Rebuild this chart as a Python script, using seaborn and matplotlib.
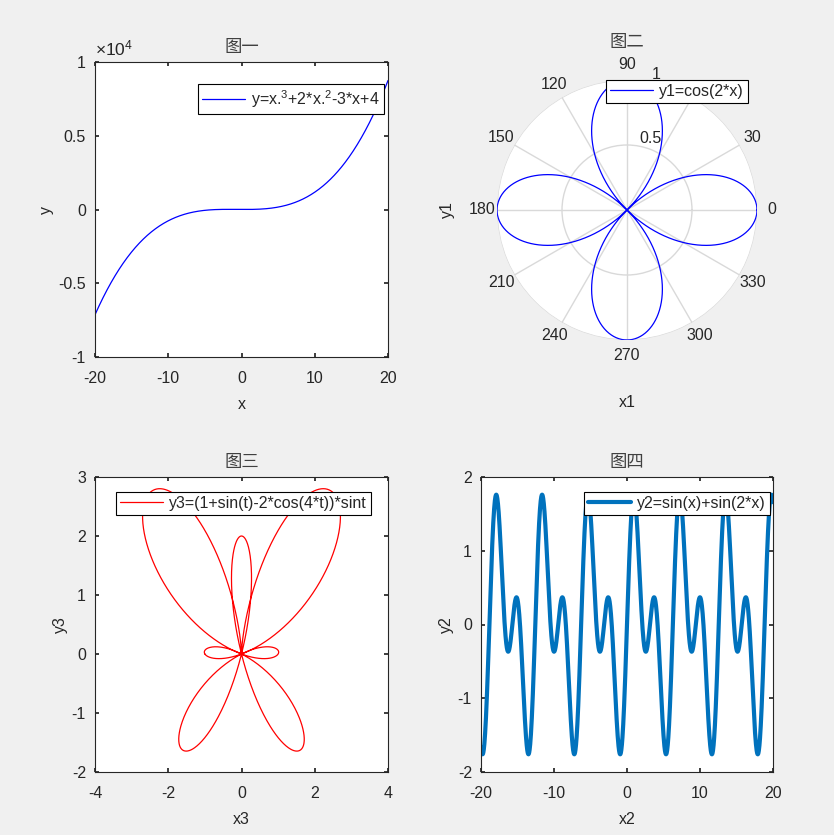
"""
plot.py — four MATLAB-style subplots (polynomial, polar rose, butterfly, sine sum).
"""

import matplotlib
matplotlib.use("Agg")
import matplotlib.pyplot as plt
import numpy as np
import seaborn as sns
from matplotlib.ticker import FuncFormatter

# ---------------------------------------------------------------------------
# Data (curves given by the legend formulas)
# ---------------------------------------------------------------------------

x = np.linspace(-20, 20, 801)
y = x**3 + 2 * x**2 - 3 * x + 4

x1 = np.linspace(0, 2 * np.pi, 1201)
y1 = np.cos(2 * x1)

t = np.linspace(0, 2 * np.pi, 2001)
rho = 1 + np.sin(t) - 2 * np.cos(4 * t)
x3 = rho * np.cos(t)
y3 = rho * np.sin(t)

x2 = np.linspace(-20, 20, 2001)
y2 = np.sin(x2) + np.sin(2 * x2)

titles = ["图一", "图二", "图三", "图四"]
labels = [
    "y=x.$^3$+2*x.$^2$-3*x+4",
    "y1=cos(2*x)",
    "y3=(1+sin(t)-2*cos(4*t))*sint",
    "y2=sin(x)+sin(2*x)",
]
polar_angles = list(range(0, 360, 30))
polar_hidden = [60]  # covered by the legend in the reference

# ---------------------------------------------------------------------------
# Style
# ---------------------------------------------------------------------------

W, H = 834, 835
BG = "#f0f0f0"
AX = "#262626"
FS = 11.5

sns.set_theme(style="ticks")
plt.rcParams["font.family"] = ["Liberation Sans", "Noto Sans CJK SC", "DejaVu Sans"]
plt.rcParams.update({
    "font.size": FS,
    "axes.unicode_minus": False,
    "axes.edgecolor": AX,
    "axes.labelcolor": AX,
    "xtick.color": AX,
    "ytick.color": AX,
    "xtick.direction": "in",
    "ytick.direction": "in",
    "xtick.top": True,
    "ytick.right": True,
    "xtick.major.size": 3,
    "ytick.major.size": 3,
    "xtick.major.pad": 10,
    "ytick.major.pad": 6.5,
    "axes.linewidth": 0.8,
    "xtick.labelsize": FS,
    "ytick.labelsize": FS,
    "axes.labelsize": FS,
    "mathtext.fontset": "custom",
    "mathtext.rm": "Liberation Sans",
    "mathtext.it": "Liberation Sans",
})

fig = plt.figure(figsize=(W / 100, H / 100), dpi=100, facecolor=BG)


def fx(px):
    return px / W


def fy(py):
    return 1 - py / H


def rect(l, t_, r, b):
    return [fx(l), fy(b), fx(r) - fx(l), fy(t_) - fy(b)]


def add_title(ax, text):
    ax.set_title(text, fontsize=12.5, color="#404040", pad=7,
                 family=["Noto Sans CJK SC", "DejaVu Sans"])


def add_labels(ax, xl, yl):
    ax.set_xlabel(xl, labelpad=8)
    ax.set_ylabel(yl, labelpad=3)


def add_legend(ax, right, top):
    leg = ax.legend(loc="upper right", bbox_to_anchor=(fx(right), fy(top)),
                    bbox_transform=fig.transFigure, borderaxespad=0,
                    fancybox=False, framealpha=1, edgecolor="black",
                    handlelength=2.7, borderpad=0.25, handletextpad=0.4,
                    fontsize=FS)
    leg.get_frame().set_linewidth(0.8)
    leg.set_zorder(10)
    return leg


# ---------------------------------------------------------------------------
# 图一
# ---------------------------------------------------------------------------

ax1 = fig.add_axes(rect(95, 62, 388, 357))
sns.lineplot(x=x, y=y, ax=ax1, color="blue", lw=0.9, label=labels[0])
ax1.set_xlim(-20, 20)
ax1.set_ylim(-1e4, 1e4)
ax1.set_xticks([-20, -10, 0, 10, 20])
ax1.set_yticks([-1e4, -0.5e4, 0, 0.5e4, 1e4])
ax1.yaxis.set_major_formatter(FuncFormatter(lambda v, _: f"{v / 1e4:g}"))
ax1.text(0, 1.012, r"$\times10^4$", transform=ax1.transAxes, ha="left",
         va="bottom", color=AX, fontsize=12.5)
add_labels(ax1, "x", "y")
add_title(ax1, titles[0])
add_legend(ax1, 384, 84)

# ---------------------------------------------------------------------------
# 图二 (polar)
# ---------------------------------------------------------------------------

axp = fig.add_axes(rect(497, 80, 757, 340), projection="polar")
theta = np.where(y1 < 0, x1 + np.pi, x1)
sns.lineplot(x=theta, y=np.abs(y1), ax=axp, color="blue", lw=0.9,
             sort=False, estimator=None, label=labels[1])
axp.set_ylim(0, 1)
axp.spines["polar"].set_visible(False)
axp.set_thetagrids(polar_angles,
                   ["" if a in polar_hidden else str(a) for a in polar_angles],
                   fontsize=FS)
axp.tick_params(axis="x", pad=4)
axp.set_rgrids([0.5, 1.0], ["0.5", "1"], angle=79, fontsize=FS)
axp.grid(True, color="#d9d9d9", lw=1)
axp.set_xlabel("")
axp.set_ylabel("")
add_title(axp, titles[1])
axp.title.set_y(1.065)
add_legend(axp, 748, 80)
fig.text(fx(627), fy(402), "x1", ha="center", va="center", color=AX, fontsize=FS)
fig.text(fx(447), fy(210), "y1", ha="center", va="center", color=AX,
         fontsize=FS, rotation=90)

# ---------------------------------------------------------------------------
# 图三
# ---------------------------------------------------------------------------

ax3 = fig.add_axes(rect(95, 477, 388, 772))
sns.lineplot(x=x3, y=y3, ax=ax3, color="red", lw=0.9, sort=False,
             estimator=None, label=labels[2])
ax3.set_xlim(-4, 4)
ax3.set_ylim(-2, 3)
ax3.set_xticks([-4, -2, 0, 2, 4])
ax3.set_yticks([-2, -1, 0, 1, 2, 3])
add_labels(ax3, "x3", "y3")
add_title(ax3, titles[2])
add_legend(ax3, 371, 492)

# ---------------------------------------------------------------------------
# 图四
# ---------------------------------------------------------------------------

ax4 = fig.add_axes(rect(481, 477, 773, 772))
sns.lineplot(x=x2, y=y2, ax=ax4, color="#0072BD", lw=3, label=labels[3])
ax4.set_xlim(-20, 20)
ax4.set_ylim(-2, 2)
ax4.set_xticks([-20, -10, 0, 10, 20])
ax4.set_yticks([-2, -1, 0, 1, 2])
add_labels(ax4, "x2", "y2")
add_title(ax4, titles[3])
add_legend(ax4, 770, 492)

for ax in (ax1, ax3, ax4):
    ax.set_facecolor("white")

fig.savefig("out.png", dpi=100, facecolor=BG)
